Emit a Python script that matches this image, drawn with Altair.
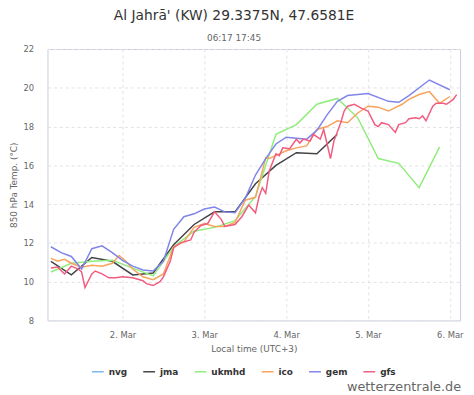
import altair as alt
import pandas as pd

models = ["nvg", "jma", "ukmhd", "ico", "gem", "gfs"]
colors = ["#7cb5ec", "#434348", "#90ed7d", "#f7a35c", "#8085e9", "#f15c80"]

# hours since 1 Mar 00:00 (local time, UTC+3)
jma_h = [3, 9, 15, 21, 27, 33, 39, 45, 51, 57, 63, 69, 75, 81, 87]
jma_v = [11.05, 10.35, 11.25, 11.05, 10.35, 10.45, 11.9, 12.95, 13.6, 13.6, 15.05, 16.0, 16.65, 16.6, 17.6]

ukmhd_h = [3, 9, 15, 21, 27, 33, 39, 45, 51, 57, 63, 69, 75, 81, 87, 93, 99, 105, 111, 117]
ukmhd_v = [10.5, 10.95, 11.05, 11.1, 10.7, 10.3, 11.8, 12.6, 12.8, 13.15, 14.4, 17.6, 18.1, 19.15, 19.45, 18.45, 16.35, 16.1, 14.85, 16.95]

ico_h = [3, 5, 7, 9, 12, 15, 18, 21, 23, 25, 27, 30, 33, 36, 39, 42, 45, 48, 51, 54, 57, 60, 63, 66, 67, 69,
         72, 75, 78, 81, 84, 87, 90, 93, 96, 99, 102, 106, 108, 111, 114, 117, 120]
ico_v = [11.2, 11.05, 11.15, 10.95, 10.75, 10.85, 10.8, 10.95, 11.35, 11.05, 10.65, 10.25, 10.1, 10.4, 11.8, 12.05,
         12.8, 13.0, 12.85, 12.85, 13.05, 14.2, 14.35, 16.4, 16.35, 16.5, 16.75, 16.9, 17.0, 17.85, 18.0, 18.3,
         18.2, 18.7, 19.05, 19.0, 18.8, 19.15, 19.4, 19.65, 19.8, 19.2, 19.55]

gem_h = [3, 6, 9, 12, 15, 18, 21, 24, 27, 30, 33, 36, 39, 42, 45, 48, 51, 54, 57, 60, 63, 66, 69, 72, 75, 78,
         81, 84, 87, 90, 96, 102, 105, 108, 114, 120]
gem_v = [11.8, 11.5, 11.3, 10.65, 11.7, 11.85, 11.5, 11.1, 10.8, 10.6, 10.55, 11.05, 12.7, 13.35, 13.5, 13.75,
         13.85, 13.6, 13.55, 14.3, 15.5, 16.35, 17.1, 17.45, 17.4, 17.35, 17.8, 18.6, 19.3, 19.6, 19.7, 19.3,
         19.25, 19.6, 20.4, 19.9]

gfs_h = [3, 5, 7, 9, 11, 12, 13, 15, 16, 18, 20, 22, 24, 27, 30, 31, 33, 35, 36, 38, 39, 41, 44, 45, 47, 49,
         51, 53, 54, 57, 59, 61, 63, 64, 65, 66, 67, 69, 70, 71, 73, 74, 75, 76, 77, 79, 80, 82, 83, 85, 86,
         88, 89, 90, 92, 94, 96, 98, 99, 100, 102, 104, 105, 107, 108, 110, 111, 112, 113, 115, 116, 118,
         119, 121, 122]
gfs_v = [10.7, 10.75, 10.4, 10.8, 10.65, 10.5, 9.7, 10.4, 10.55, 10.4, 10.2, 10.2, 10.25, 10.2, 10.05, 9.9,
         9.8, 10.0, 10.25, 11.05, 11.75, 12.0, 12.15, 12.55, 12.9, 13.0, 13.6, 13.2, 12.85, 12.95, 13.35,
         13.95, 13.55, 14.35, 14.85, 14.55, 15.7, 16.6, 16.5, 16.9, 16.85, 17.1, 17.35, 17.15, 17.35, 17.25,
         17.6, 17.35, 17.85, 16.35, 17.25, 18.2, 18.8, 19.05, 19.15, 18.95, 18.8, 18.1, 18.0, 18.2, 18.1,
         17.7, 18.1, 18.2, 18.4, 18.45, 18.4, 18.55, 18.3, 19.05, 19.2, 19.2, 19.15, 19.4, 19.65]

series = [("jma", jma_h, jma_v), ("ukmhd", ukmhd_h, ukmhd_v), ("ico", ico_h, ico_v),
          ("gem", gem_h, gem_v), ("gfs", gfs_h, gfs_v)]


def stamp(h):
    return f"2024-03-{1 + h // 24:02d}T{h % 24:02d}:00:00Z"


rows = []
for name, hs, vs in series:
    for h, v in zip(hs, vs):
        rows.append({"model": name, "t": stamp(h), "v": v})
df = pd.DataFrame(rows)

FONT = "DejaVu Sans"

x_start = alt.DateTime(year=2024, month=3, date=1, hours=2, utc=True)
x_end = alt.DateTime(year=2024, month=3, date=6, hours=3, utc=True)
x_ticks = [alt.DateTime(year=2024, month=3, date=d, hours=0, utc=True) for d in range(2, 7)]

lines = alt.Chart(df).mark_line(strokeWidth=1.5, clip=True).encode(
    x=alt.X("t:T", scale=alt.Scale(type="utc", domain=[x_start, x_end]),
            axis=alt.Axis(format="%-d. %b", values=x_ticks, title="Local time (UTC+3)",
                          labelPadding=10, titlePadding=6)),
    y=alt.Y("v:Q", scale=alt.Scale(domain=[8, 22], nice=False, zero=False),
            axis=alt.Axis(values=list(range(8, 23, 2)), title="850 hPa Temp. (°C)",
                          labelPadding=14, titlePadding=5)),
    color=alt.Color("model:N", scale=alt.Scale(domain=models, range=colors),
                    legend=alt.Legend(orient="none", legendX=44, legendY=320, direction="horizontal",
                                      title=None, symbolType="stroke", symbolSize=144,
                                      symbolStrokeWidth=1.5, labelFont=FONT, labelFontWeight="bold",
                                      labelFontSize=9, labelColor="#333333", columnPadding=13,
                                      labelOffset=4, padding=0)),
    detail="model:N",
)

credit = alt.Chart(pd.DataFrame({"c": ["wetterzentrale.de"]})).mark_text(
    align="right", baseline="alphabetic", fontSize=13, color="#666666", font=FONT
).encode(x=alt.value(419), y=alt.value(346), text="c:N")

chart = alt.layer(lines, credit).properties(
    width=418, height=275,
    autosize=alt.AutoSizeParams(type="none"),
    padding={"left": 40, "top": 39, "right": 6, "bottom": 73},
    title=alt.TitleParams(text="Al Jahrā' (KW) 29.3375N, 47.6581E", subtitle="06:17 17:45",
                          anchor="middle", dx=-20, fontSize=14, fontWeight="normal", font=FONT,
                          color="#333333", subtitleFont=FONT, subtitleFontSize=9,
                          subtitleColor="#666666", subtitlePadding=11, offset=2),
).configure_view(
    stroke="#c8cce0", strokeWidth=1
).configure_axis(
    grid=True, gridDash=[3, 3], gridColor="#e3e3e3", domain=False, ticks=False,
    labelFont=FONT, labelFontSize=8.5, labelColor="#666666",
    titleFont=FONT, titleFontSize=9, titleFontWeight="normal", titleColor="#666666",
)

chart.save("out.html", embed_options={"renderer": "svg", "actions": False})
